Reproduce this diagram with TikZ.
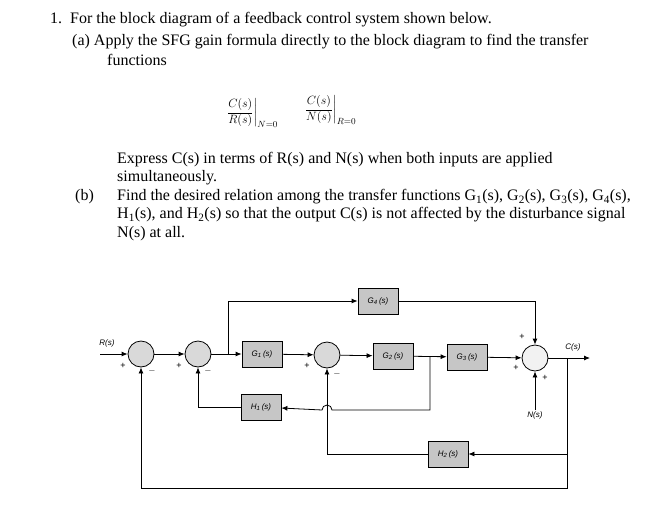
\documentclass[tikz,border=0pt]{standalone}
\usepackage{amsmath}
\usepackage{fontspec}
\setmainfont{Liberation Serif}
\newfontfamily\blockfont{Liberation Sans}
\usetikzlibrary{arrows.meta}
\begin{document}
\begin{tikzpicture}[x=1pt, y=-1pt,
        txt/.style={anchor=west, inner sep=0pt, font=\fontsize{16}{18}\selectfont},
        frac/.style={font=\fontsize{13}{15}\selectfont},
        block/.style={draw, thick, fill=gray!45, minimum width=40pt, minimum height=26pt, inner sep=0pt, font=\blockfont\itshape\fontsize{8}{9}\selectfont},
        sum/.style={circle, draw, thick, fill=gray!30, minimum size=26pt, inner sep=0pt},
        sig/.style={font=\blockfont\itshape\fontsize{8}{9}\selectfont, inner sep=1pt},
        sgn/.style={font=\blockfont\fontsize{9}{9}\selectfont, inner sep=0pt},
        arrow/.style={-{Latex[length=6pt,width=5pt]}, thick}
    ]
        \useasboundingbox (0,0) rectangle (648,507);

        % Text of the problem
        \node[txt] (t1) at (50,20) {1.\ \ For the block diagram of a feedback control system shown below.};
        \node[txt] (t2) at (72,42) {(a)\ Apply the SFG gain formula directly to the block diagram to find the transfer};
        \node[txt] (t3) at (107,60) {functions};
        \node[frac] (f1) at (252,113) {$\left.\dfrac{C(s)}{R(s)}\right|_{N=0}$};
        \node[frac] (f2) at (330,110) {$\left.\dfrac{C(s)}{N(s)}\right|_{R=0}$};
        \node[txt] (t4) at (117,160) {Express C(s) in terms of R(s) and N(s) when both inputs are applied};
        \node[txt] (t5) at (117,178) {simultaneously.};
        \node[txt] (t6) at (75,197) {(b)};
        \node[txt] (t7) at (117,197) {Find the desired relation among the transfer functions G\textsubscript{1}(s), G\textsubscript{2}(s), G\textsubscript{3}(s), G\textsubscript{4}(s),};
        \node[txt] (t8) at (117,215) {H\textsubscript{1}(s), and H\textsubscript{2}(s) so that the output C(s) is not affected by the disturbance signal};
        \node[txt] (t9) at (117,234) {N(s) at all.};

        % Summing points
        \node[sum] (S1) at (141,354) {};
        \node[sum] (S2) at (198,354) {};
        \node[sum] (S3) at (327,355) {};
        \node[sum, fill=gray!10] (S4) at (535,358) {};

        % Blocks
        \node[block] (G1) at (262,354) {G\textsubscript{1}\,(s)};
        \node[block] (G2) at (393,356) {G\textsubscript{2}\,(s)};
        \node[block] (G3) at (467,357) {G\textsubscript{3}\,(s)};
        \node[block] (G4) at (378,301) {G\textsubscript{4}\,(s)};
        \node[block] (H1) at (261,407) {H\textsubscript{1}\,(s)};
        \node[block] (H2) at (448,454) {H\textsubscript{2}\,(s)};

        % Signals and branch points
        \coordinate (R) at (100,354);
        \coordinate (C) at (590,358);
        \coordinate (N) at (535,410);
        \coordinate (B1) at (228,354);
        \coordinate (B2) at (430,356);
        \coordinate (B3) at (567,358);
        \node[sig, above] at (107,348) {R(s)};
        \node[sig, above] at (573,352) {C(s)};
        \node[sig, below] (Nl) at (N) {N(s)};

        % Forward path
        \draw[arrow] (R) -- (S1);
        \draw[arrow] (S1) -- (S2);
        \draw[arrow] (S2) -- (G1);
        \draw[arrow] (G1) -- (S3);
        \draw[arrow] (S3) -- (G2);
        \draw[arrow] (G2) -- (G3);
        \draw[arrow] (G3) -- (S4);
        \draw[arrow] (S4) -- (C);
        \draw[arrow] (N) -- (S4);

        % Feedforward through G4
        \draw[arrow] (B1) |- (G4);
        \draw[arrow] (G4) -| (S4);

        % Feedback through H1 (hop over the line into S3)
        \draw[arrow] (B2) |- (332,410) arc (0:-180:5) -- (H1);
        \draw[arrow] (H1) -| (S2);

        % Feedback through H2
        \draw[arrow] (B3) |- (H2);
        \draw[arrow] (H2) -| (S3);

        % Outer feedback loop
        \draw[arrow] (B3) |- (141,488) -- (S1);

        % Signs
        \node[sgn] at (123,366) {+};
        \node[sgn] at (152,371) {$-$};
        \node[sgn] at (179,366) {+};
        \node[sgn] at (208,371) {$-$};
        \node[sgn] at (307,366) {+};
        \node[sgn] at (337,374) {$-$};
        \node[sgn] at (522,337) {+};
        \node[sgn] at (516,368) {+};
        \node[sgn] at (545,378) {+};
    \end{tikzpicture}
\end{document}
